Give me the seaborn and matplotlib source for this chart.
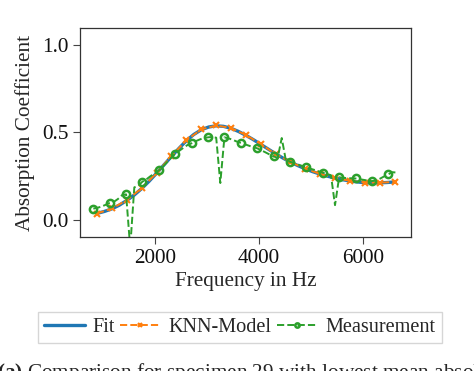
import numpy as np
import pandas as pd
import matplotlib
matplotlib.use("Agg")
import matplotlib.pyplot as plt
import seaborn as sns

# =====================================
# DATA
# =====================================

fit_freq = [885, 1028, 1171, 1314, 1457, 1600, 1743, 1886, 2029, 2172,
            2315, 2458, 2601, 2744, 2887, 3030, 3173, 3316, 3459, 3602,
            3745, 3888, 4031, 4174, 4317, 4460, 4603, 4746, 4889, 5032,
            5175, 5318, 5461, 5604, 5747, 5890, 6033, 6176, 6319, 6462, 6605]
fit_alpha = [0.036, 0.047, 0.062, 0.083, 0.110, 0.141, 0.178, 0.220, 0.266, 0.314,
             0.362, 0.408, 0.452, 0.488, 0.515, 0.531, 0.538, 0.535, 0.524, 0.506,
             0.484, 0.459, 0.432, 0.405, 0.378, 0.353, 0.330, 0.310, 0.291, 0.275,
             0.261, 0.249, 0.238, 0.229, 0.222, 0.216, 0.212, 0.210, 0.211, 0.213, 0.216]

knn_freq = [885, 1171, 1457, 1743, 2029, 2315, 2601, 2887, 3173, 3459, 3745,
            4031, 4317, 4603, 4889, 5175, 5461, 5747, 6033, 6319, 6605]
knn_alpha = [0.035, 0.064, 0.112, 0.180, 0.268, 0.364, 0.455, 0.517, 0.540, 0.526, 0.486,
             0.434, 0.376, 0.331, 0.292, 0.262, 0.238, 0.223, 0.212, 0.212, 0.216]

meas_freq = [814, 893, 972, 1050, 1129, 1208, 1286, 1365, 1444, 1523,
             1602, 1680, 1759, 1838, 1916, 1995, 2074, 2153, 2232, 2310,
             2389, 2468, 2546, 2625, 2704, 2783, 2862, 2940, 3019, 3098,
             3176, 3255, 3334, 3413, 3492, 3570, 3649, 3728, 3806, 3885,
             3964, 4043, 4122, 4200, 4279, 4358, 4436, 4515, 4594, 4673,
             4752, 4830, 4909, 4988, 5066, 5145, 5224, 5303, 5382, 5460,
             5539, 5618, 5696, 5775, 5854, 5933, 6012, 6090, 6169, 6248,
             6326, 6405, 6484, 6563, 6642]
meas_alpha = [0.063, 0.068, 0.075, 0.085, 0.096, 0.102, 0.118, 0.140, 0.145, -0.160,
              0.185, 0.195, 0.218, 0.232, 0.250, 0.265, 0.282, 0.305, 0.330, 0.355,
              0.378, 0.395, 0.412, 0.428, 0.438, 0.450, 0.460, 0.468, 0.472, 0.474,
              0.470, 0.210, 0.472, 0.466, 0.458, 0.448, 0.440, 0.432, 0.424, 0.416,
              0.409, 0.398, 0.386, 0.374, 0.363, 0.354, 0.468, 0.340, 0.332, 0.324,
              0.316, 0.308, 0.300, 0.292, 0.285, 0.277, 0.270, 0.262, 0.255, 0.083,
              0.243, 0.240, 0.238, 0.237, 0.236, 0.232, 0.228, 0.224, 0.221, 0.225,
              0.235, 0.248, 0.260, 0.272, 0.270]

# =====================================
# STYLE
# =====================================

FS = 15.3

sns.set_theme(style="ticks")
plt.rcParams['font.family'] = ['Liberation Serif', 'DejaVu Serif']
plt.rcParams['font.size'] = FS
plt.rcParams['mathtext.fontset'] = 'custom'
plt.rcParams['mathtext.rm'] = 'Liberation Serif'
plt.rcParams['mathtext.bf'] = 'Liberation Serif:bold'

fig = plt.figure(figsize=(4.74, 3.71), dpi=100)
ax = fig.add_axes([0.169, 0.361, 0.698, 0.564])

# =====================================
# PLOT
# =====================================

sns.lineplot(
    x=fit_freq, y=fit_alpha, ax=ax,
    color='#1f77b4', linewidth=2.4, label='Fit'
)

sns.lineplot(
    x=knn_freq, y=knn_alpha, ax=ax,
    color='#ff7f0e', linewidth=1.4, linestyle='--',
    marker='x', markersize=5, markeredgewidth=1.5,
    markeredgecolor='#ff7f0e',
    label='KNN-Model'
)

sns.lineplot(
    x=meas_freq, y=meas_alpha, ax=ax,
    color='#2ca02c', linewidth=1.4, linestyle='--',
    marker='o', markersize=5.2, markerfacecolor='none',
    markeredgecolor='#2ca02c', markeredgewidth=1.8, markevery=4,
    label='Measurement'
)

ax.set_xlim(560, 6920)
ax.set_ylim(-0.1, 1.1)
ax.set_xticks([2000, 4000, 6000])
ax.set_yticks([0.0, 0.5, 1.0])
ax.set_yticklabels(['0.0', '0.5', '1.0'])

ax.set_xlabel("Frequency in Hz", fontsize=FS, labelpad=3)
ax.set_ylabel("Absorption Coefficient", fontsize=FS, labelpad=5)
ax.tick_params(axis='both', labelsize=FS, length=5, width=0.8,
               color='#444444', labelcolor='#111111')

for s in ax.spines.values():
    s.set_visible(True)
    s.set_color('#333333')
    s.set_linewidth(0.9)

handles, labels = ax.get_legend_handles_labels()
ax.get_legend().remove()
fig.legend(
    handles, labels,
    loc='center', bbox_to_anchor=(0.506, 0.118),
    ncol=3, fontsize=14.6, frameon=True, fancybox=False,
    edgecolor='#cccccc', handlelength=2.0, handletextpad=0.4,
    columnspacing=0.25, borderpad=0.3, borderaxespad=0.2, markerscale=0.6
)

fig.text(-0.006, 1 - 361 / 371,
         r"$\mathbf{(a)}$ Comparison for specimen 29 with lowest mean absolute error",
         fontsize=FS, va='top', ha='left')

fig.savefig("out.png", dpi=100)
plt.close()
